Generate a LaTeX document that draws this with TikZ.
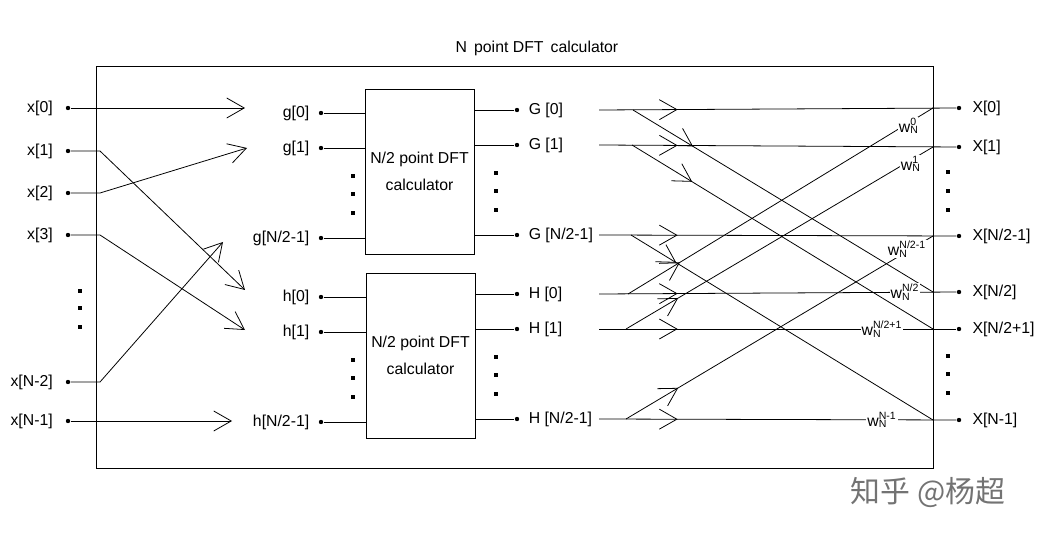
\documentclass[tikz,border=0pt]{standalone}
\usepackage{fontspec}
\setmainfont{Liberation Sans}
\newfontfamily\cjk{Noto Sans CJK SC}
\usetikzlibrary{arrows.meta,decorations.markings,positioning}

\tikzset{
  lbl/.style={font=\fontsize{9}{11}\selectfont, inner sep=1pt},
  tw/.style={font=\fontsize{9}{10}\selectfont, inner sep=0.5pt, fill=white},
  blk/.style={draw, inner sep=0pt, minimum width=2.18cm, minimum height=3.3cm, align=center, font=\fontsize{9}{15}\selectfont},
  pin/.style={fill, circle, inner sep=0pt, minimum size=2.5pt},
  vdot/.style={fill, inner sep=0pt, minimum size=1.8pt},
  barb/.style={-{Straight Barb[length=3.5mm,width=4mm]}},
  mk/.style={postaction={decorate}, decoration={markings,
      mark=at position #1 with {\arrow{Straight Barb[length=3.5mm,width=4mm]}}}},
}
\newcommand{\twd}[1]{w\rlap{\textsubscript{\fontsize{6}{6}\selectfont N}}\textsuperscript{\fontsize{6}{6}\selectfont #1}}

\begin{document}
\begin{tikzpicture}[x=0.02cm,y=-0.02cm,line width=0.45pt]
        \useasboundingbox (0,0) rectangle (1037,540);
        \draw (96,66) rectangle (933,468);
        \node[lbl] (title) at (537,48) {N\, point DFT\, calculator};

        % inputs
        \foreach \n/\t/\y in {i0/{x[0]}/108, i1/{x[1]}/151, i2/{x[2]}/193, i3/{x[3]}/235, im/{x[N-2]}/382, il/{x[N-1]}/421} {
            \node[pin] (\n) at (68,\y) {};
            \node[lbl, left=6pt of \n] {\t};
        }
        \foreach \y in {291,308,327} \node[vdot] at (80,\y) {};

        % DFT blocks
        \node[blk] (top) at (419.5,171.5) {N/2 point DFT\\calculator};
        \node[blk] (bot) at (420.5,355.5) {N/2 point DFT\\calculator};

        \foreach \n/\t/\y in {g0/{g[0]}/113, g1/{g[1]}/148, gl/{g[N/2-1]}/238, h0/{h[0]}/297, h1/{h[1]}/332, hl/{h[N/2-1]}/422} {
            \node[pin] (\n) at (321,\y) {};
            \node[lbl, left=4pt of \n] (\n t) {\t};
        }
        \draw (g0) -- (g0 -| top.west) (g1) -- (g1 -| top.west) (gl) -- (gl -| top.west);
        \draw (h0) -- (h0 -| bot.west) (h1) -- (h1 -| bot.west) (hl) -- (hl -| bot.west);
        \foreach \y in {176,194,213,360,378,397} \node[vdot] at (353,\y) {};

        \foreach \n/\t/\y in {G0/{G [0]}/110, G1/{G [1]}/145, Gl/{G [N/2-1]}/235, H0/{H [0]}/294, H1/{H [1]}/329, Hl/{H [N/2-1]}/419} {
            \node[pin] (\n) at (517,\y) {};
            \node[lbl, right=4pt of \n] {\t};
        }
        \draw (G0 -| top.east) -- (G0) (G1 -| top.east) -- (G1) (Gl -| top.east) -- (Gl);
        \draw (H0 -| bot.east) -- (H0) (H1 -| bot.east) -- (H1) (Hl -| bot.east) -- (Hl);
        \foreach \y in {173,191,210,357,375,394} \node[vdot] at (496,\y) {};

        % shuffle
        \coordinate (a0) at (245,108);
        \coordinate (a1) at (247,148);
        \coordinate (a2) at (223,242);
        \coordinate (a3) at (245,290);
        \coordinate (a4) at (245,330);
        \coordinate (a5) at (232,421);
        \draw[barb] (i0) -- (a0);
        \draw[barb] (i1) -- (100,151) -- (a3);
        \draw[barb] (i2) -- (100,193) -- (a1);
        \draw[barb] (i3) -- (100,235) -- (a4);
        \draw[barb] (im) -- (100,382) -- (a2);
        \draw[barb] (il) -- (a5);

        % outputs
        \foreach \n/\t/\y in {o0/{X[0]}/108, o1/{X[1]}/147, o2/{X[N/2-1]}/236, o3/{X[N/2]}/292, o4/{X[N/2+1]}/329, o5/{X[N-1]}/420} {
            \node[pin] (\n) at (959,\y) {};
            \node[lbl, right=5pt of \n] {\t};
        }
        \foreach \y in {172,191,210,356,374,393} \node[vdot] at (948,\y) {};

        % butterflies
        \foreach \y/\o in {110/o0, 145/o1, 235/o2, 294/o3, 329/o4, 419/o5}
            \draw[mk=0.22] (599,\y) -- (\o);
        \draw[mk=0.2] (633,110) -- (933,292);
        \draw[mk=0.2] (632,145) -- (933,329);
        \draw[mk=0.15] (631,235) -- (933,420);
        \draw[mk=0.17] (628,294) -- (933,108);
        \draw[mk=0.17] (626,329) -- (933,147);
        \draw[mk=0.17] (626,419) -- (933,236);

        \node[tw] (w0) at (908,126) {\twd{0}};
        \node[tw] (w1) at (910,164) {\twd{1}};
        \node[tw] (w2) at (907,249) {\twd{N/2-1}};
        \node[tw] (w3) at (905,292) {\twd{N/2}};
        \node[tw] (w4) at (882,329) {\twd{N/2+1}};
        \node[tw] (w5) at (882,420) {\twd{N-1}};

        \node[text=black!55, font=\cjk\fontsize{17}{20}\selectfont] (mark) at (928,493) {知乎 @杨超};
\end{tikzpicture}
\end{document}
